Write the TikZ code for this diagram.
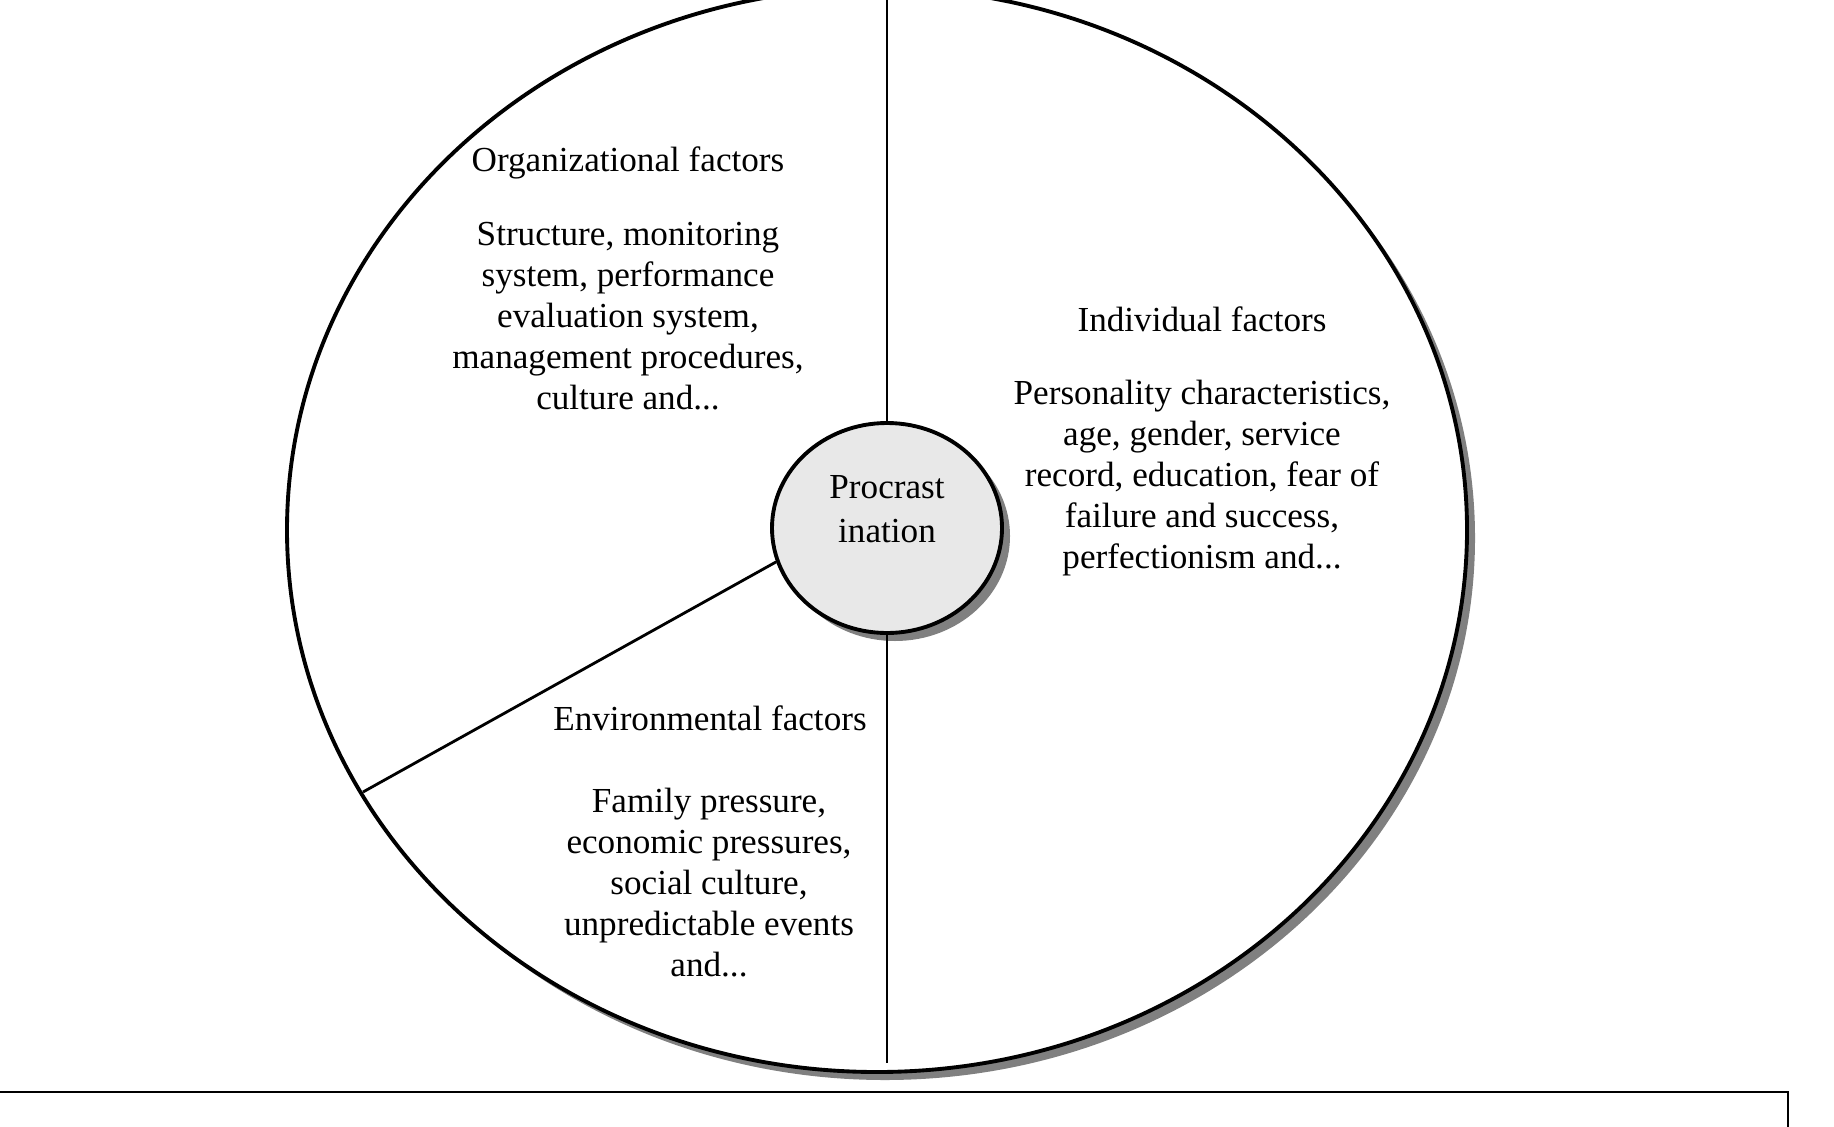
\documentclass[tikz,border=0pt]{standalone}
\usepackage{fontspec}
\setmainfont{Liberation Serif}
\usetikzlibrary{shapes.geometric,shadows}

\begin{document}
\begin{tikzpicture}[
    txt/.style={align=center, font=\fontsize{10}{11.67}\selectfont},
    rim/.style={line width=1.1pt, drop shadow={shadow xshift=0.8mm, shadow yshift=-0.8mm, fill=black!50, opacity=1}}]
                \useasboundingbox (0,0) rectangle (18.34,-11.26);
                \draw[rim, fill=white] (8.77,-5.30) ellipse [x radius=5.9cm, y radius=5.42cm];
                \node[ellipse, draw, rim, fill=black!9, minimum width=2.3cm, minimum height=2.1cm, inner sep=0pt] (proc) at (8.87,-5.28) {};
                \node[txt, font=\fontsize{10}{12.5}\selectfont] (proctxt) at ([yshift=1.9mm]proc.center) {Procrast\\ination};
                \coordinate (top) at (8.87,0.3);
                \coordinate (bottom) at (8.87,-10.63);
                \coordinate (rimleft) at (3.63,-7.92);
                \draw[line width=0.8pt] (top) -- (proc.north);
                \draw[line width=0.8pt] (proc.south) -- (bottom);
                \draw[line width=0.8pt] (proc.197) -- (rimleft);
                \node[txt] (orgtitle) at (6.28,-1.625) {Organizational factors};
                \node[txt] (orgbody) at (6.28,-3.165) {Structure, monitoring\\system, performance\\evaluation system,\\management procedures,\\culture and...};
                \node[txt] (indtitle) at (12.02,-3.19) {Individual factors};
                \node[txt] (indbody) at (12.02,-4.785) {Personality characteristics,\\age, gender, service\\record, education, fear of\\failure and success,\\perfectionism and...};
                \node[txt] (envtitle) at (7.10,-7.18) {Environmental factors};
                \node[txt] (envbody) at (7.09,-8.825) {Family pressure,\\economic pressures,\\social culture,\\unpredictable events\\and...};
                \draw[line width=0.6pt] (-0.2,-10.92) -- (17.88,-10.92) -- (17.88,-11.5);
            \end{tikzpicture}
\end{document}
